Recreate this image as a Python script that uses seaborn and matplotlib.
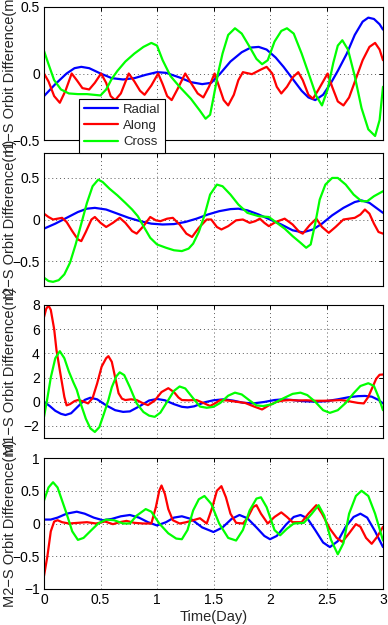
import numpy as np
import pandas as pd
import matplotlib
matplotlib.use("Agg")
import matplotlib.pyplot as plt
import seaborn as sns
from matplotlib.lines import Line2D

# ---- data (time in days, difference in m) ----
p1_radial_t = [0, 0.1, 0.2, 0.27, 0.33, 0.4, 0.5, 0.6, 0.7, 0.8, 0.9, 1.0, 1.08, 1.2, 1.3, 1.4, 1.48, 1.56,
               1.65, 1.75, 1.83, 1.9, 1.97, 2.05, 2.12, 2.2, 2.28, 2.34, 2.4, 2.47, 2.54, 2.6, 2.68, 2.75,
               2.82, 2.87, 2.92, 2.97, 3.0]
p1_radial_v = [-0.17, -0.08, 0.0, 0.04, 0.05, 0.04, 0.0, -0.035, -0.045, -0.035, -0.01, 0.01, 0.005, -0.03,
               -0.065, -0.08, -0.07, 0.0, 0.09, 0.16, 0.195, 0.2, 0.18, 0.12, 0.05, -0.04, -0.13, -0.18, -0.2,
               -0.16, -0.07, 0.02, 0.15, 0.29, 0.39, 0.42, 0.41, 0.37, 0.33]
p1_along_t = [0, 0.04, 0.09, 0.14, 0.19, 0.245, 0.29, 0.34, 0.40, 0.45, 0.505, 0.55, 0.59, 0.63, 0.68, 0.75,
              0.80, 0.85, 0.89, 0.95, 1.01, 1.05, 1.09, 1.13, 1.18, 1.25, 1.30, 1.36, 1.41, 1.46, 1.51, 1.55,
              1.59, 1.63, 1.68, 1.72, 1.76, 1.84, 1.92, 1.97, 2.02, 2.06, 2.10, 2.15, 2.20, 2.25, 2.29, 2.34,
              2.38, 2.43, 2.51, 2.55, 2.60, 2.65, 2.70, 2.76, 2.82, 2.88, 2.93, 2.97, 3.0]
p1_along_v = [0.0, -0.06, -0.17, -0.22, -0.13, 0.0, -0.05, -0.11, -0.12, -0.07, 0.0, -0.07, -0.17, -0.2,
              -0.15, 0.0, -0.06, -0.13, -0.16, -0.09, 0.0, -0.08, -0.17, -0.2, -0.12, 0.0, -0.07, -0.15, -0.18,
              -0.1, 0.0, -0.1, -0.2, -0.24, -0.16, -0.05, 0.01, -0.005, 0.03, 0.05, 0.0, -0.1, -0.15, -0.1,
              -0.03, 0.01, -0.05, -0.16, -0.19, -0.12, 0.0, -0.1, -0.21, -0.24, -0.18, -0.04, 0.1, 0.2, 0.23,
              0.18, 0.1]
p1_cross_t = [0, 0.04, 0.09, 0.15, 0.22, 0.3, 0.38, 0.44, 0.5, 0.55, 0.6, 0.65, 0.72, 0.8, 0.88, 0.95, 1.0,
              1.05, 1.12, 1.2, 1.3, 1.38, 1.43, 1.47, 1.5, 1.54, 1.58, 1.63, 1.69, 1.75, 1.82, 1.88, 1.93,
              1.98, 2.04, 2.1, 2.15, 2.21, 2.28, 2.35, 2.41, 2.46, 2.51, 2.56, 2.6, 2.64, 2.69, 2.75, 2.81,
              2.87, 2.93, 2.97, 3.0]
p1_cross_v = [0.17, 0.07, -0.05, -0.12, -0.15, -0.155, -0.155, -0.16, -0.165, -0.12, -0.04, 0.02, 0.09, 0.15,
              0.2, 0.23, 0.21, 0.1, -0.02, -0.1, -0.19, -0.28, -0.34, -0.31, -0.18, 0.0, 0.15, 0.29, 0.34, 0.3,
              0.2, 0.11, 0.07, 0.1, 0.24, 0.32, 0.34, 0.3, 0.15, -0.02, -0.17, -0.24, -0.12, 0.08, 0.21, 0.25,
              0.18, -0.02, -0.26, -0.42, -0.47, -0.35, -0.1]

p2_radial_t = [0, 0.1, 0.2, 0.3, 0.38, 0.45, 0.55, 0.65, 0.75, 0.85, 0.95, 1.05, 1.15, 1.25, 1.35, 1.45, 1.55,
               1.65, 1.72, 1.8, 1.9, 2.0, 2.1, 2.2, 2.29, 2.38, 2.46, 2.55, 2.65, 2.75, 2.81, 2.88, 2.95, 3.0]
p2_radial_v = [-0.11, -0.05, 0.02, 0.09, 0.13, 0.14, 0.12, 0.07, 0.02, -0.02, -0.05, -0.06, -0.055, -0.03,
               0.01, 0.06, 0.1, 0.125, 0.13, 0.11, 0.06, 0.0, -0.06, -0.13, -0.155, -0.12, -0.05, 0.05, 0.14,
               0.21, 0.23, 0.2, 0.13, 0.08]
p2_along_t = [0, 0.04, 0.08, 0.12, 0.16, 0.2, 0.25, 0.3, 0.33, 0.37, 0.42, 0.45, 0.5, 0.55, 0.61, 0.67, 0.72,
              0.78, 0.82, 0.88, 0.94, 0.99, 1.03, 1.09, 1.14, 1.2, 1.26, 1.31, 1.37, 1.44, 1.48, 1.53, 1.57,
              1.63, 1.7, 1.76, 1.82, 1.87, 1.91, 1.95, 1.99, 2.05, 2.13, 2.2, 2.26, 2.29, 2.35, 2.41, 2.46,
              2.52, 2.58, 2.65, 2.75, 2.8, 2.84, 2.88, 2.92, 2.96, 3.0]
p2_along_v = [0.07, 0.03, 0.0, 0.01, 0.02, -0.03, -0.14, -0.24, -0.26, -0.15, 0.0, 0.03, -0.04, -0.09, -0.04,
              0.02, -0.04, -0.14, -0.17, -0.08, 0.03, -0.01, -0.02, 0.01, 0.02, -0.06, -0.17, -0.21, -0.1, 0.0,
              0.0, -0.09, -0.12, -0.08, -0.01, 0.0, -0.04, -0.02, 0.01, -0.04, -0.08, -0.03, 0.01, -0.06,
              -0.15, -0.17, -0.07, 0.01, -0.09, -0.16, -0.09, 0.0, 0.02, 0.06, 0.12, 0.07, -0.05, -0.15, -0.17]
p2_cross_t = [0, 0.04, 0.08, 0.13, 0.18, 0.23, 0.28, 0.33, 0.38, 0.43, 0.48, 0.52, 0.58, 0.65, 0.72, 0.78,
              0.83, 0.88, 0.94, 1.0, 1.08, 1.15, 1.22, 1.28, 1.32, 1.37, 1.42, 1.47, 1.53, 1.58, 1.65, 1.72,
              1.8, 1.9, 1.99, 2.06, 2.13, 2.2, 2.27, 2.32, 2.36, 2.4, 2.44, 2.49, 2.55, 2.6, 2.67, 2.74, 2.81,
              2.86, 2.92, 3.0]
p2_cross_v = [-0.7, -0.74, -0.75, -0.73, -0.66, -0.52, -0.3, -0.05, 0.2, 0.4, 0.48, 0.45, 0.37, 0.29, 0.2,
              0.12, 0.04, -0.08, -0.22, -0.3, -0.34, -0.37, -0.38, -0.35, -0.29, -0.15, 0.05, 0.3, 0.42, 0.4,
              0.3, 0.18, 0.08, 0.04, 0.03, -0.04, -0.11, -0.2, -0.28, -0.34, -0.3, -0.05, 0.24, 0.42, 0.5, 0.5,
              0.42, 0.3, 0.22, 0.22, 0.28, 0.34]

p3_radial_t = [0, 0.05, 0.1, 0.15, 0.19, 0.24, 0.3, 0.36, 0.41, 0.47, 0.55, 0.63, 0.7, 0.76, 0.85, 0.93, 1.0,
               1.07, 1.15, 1.22, 1.27, 1.33, 1.42, 1.5, 1.59, 1.67, 1.76, 1.85, 1.95, 2.04, 2.12, 2.2, 2.3,
               2.41, 2.5, 2.6, 2.7, 2.78, 2.84, 2.9, 2.96, 3.0]
p3_radial_v = [0.0, -0.35, -0.75, -1.0, -1.1, -0.95, -0.4, 0.15, 0.33, 0.2, -0.3, -0.7, -0.84, -0.8, -0.35,
               0.1, 0.23, 0.12, -0.2, -0.42, -0.47, -0.38, -0.05, 0.12, 0.2, 0.1, -0.08, -0.14, -0.02, 0.14,
               0.2, 0.14, 0.04, 0.0, 0.05, 0.2, 0.38, 0.46, 0.48, 0.42, 0.15, -0.14]
p3_along_t = [0, 0.02, 0.04, 0.06, 0.09, 0.11, 0.14, 0.16, 0.18, 0.2, 0.23, 0.27, 0.3, 0.34, 0.39, 0.43, 0.47,
              0.51, 0.55, 0.57, 0.6, 0.63, 0.66, 0.69, 0.72, 0.77, 0.82, 0.87, 0.92, 0.98, 1.04, 1.1, 1.15,
              1.19, 1.22, 1.28, 1.35, 1.41, 1.47, 1.52, 1.56, 1.63, 1.7, 1.78, 1.86, 1.93, 1.99, 2.06, 2.12,
              2.18, 2.25, 2.32, 2.4, 2.47, 2.55, 2.62, 2.68, 2.72, 2.78, 2.83, 2.87, 2.91, 2.94, 2.97, 3.0]
p3_along_v = [7.0, 7.7, 7.95, 7.6, 6.0, 4.3, 2.6, 1.5, 0.4, -0.3, -0.2, 0.05, 0.14, 0.05, -0.14, 0.3, 1.5,
              2.9, 3.6, 3.77, 3.3, 2.0, 0.7, 0.25, 0.14, 0.2, 0.14, -0.1, -0.28, 0.1, 0.8, 1.12, 0.8, 0.35,
              0.14, 0.12, 0.14, -0.1, -0.35, -0.1, 0.14, 0.1, 0.0, -0.1, -0.4, -0.64, -0.3, 0.0, 0.1, 0.14, 0.1,
              0.12, 0.08, 0.08, 0.1, 0.14, 0.08, 0.0, -0.1, -0.14, 0.4, 1.26, 1.9, 2.23, 2.25]
p3_cross_t = [0, 0.03, 0.06, 0.1, 0.14, 0.18, 0.22, 0.26, 0.29, 0.33, 0.37, 0.41, 0.45, 0.49, 0.53, 0.57,
              0.6, 0.64, 0.67, 0.71, 0.76, 0.82, 0.88, 0.93, 0.98, 1.03, 1.07, 1.1, 1.15, 1.2, 1.25, 1.31,
              1.38, 1.44, 1.5, 1.56, 1.63, 1.69, 1.75, 1.82, 1.88, 1.94, 2.02, 2.1, 2.2, 2.27, 2.33, 2.4, 2.47,
              2.53, 2.6, 2.67, 2.74, 2.8, 2.87, 2.92, 2.96, 3.0]
p3_cross_v = [-1.25, 0.3, 2.0, 3.6, 4.18, 3.6, 2.5, 1.6, 0.98, -0.3, -1.4, -2.2, -2.5, -2.1, -1.0, 0.14, 1.2,
              2.1, 2.43, 2.2, 1.2, -0.14, -0.85, -1.15, -1.25, -0.9, -0.3, 0.14, 0.9, 1.26, 1.1, 0.4, -0.4,
              -0.5, -0.42, -0.1, 0.5, 0.75, 0.6, 0.1, -0.3, -0.36, -0.2, 0.2, 0.65, 0.75, 0.55, 0.0, -0.7,
              -0.92, -0.7, -0.1, 0.7, 1.3, 1.53, 1.3, 0.4, -0.7]

p4_radial_t = [0, 0.06, 0.12, 0.2, 0.29, 0.36, 0.44, 0.52, 0.6, 0.68, 0.76, 0.84, 0.92, 1.0, 1.08, 1.15, 1.22,
               1.3, 1.4, 1.5, 1.58, 1.66, 1.73, 1.8, 1.88, 1.95, 2.0, 2.06, 2.14, 2.21, 2.27, 2.33, 2.4, 2.47,
               2.53, 2.6, 2.67, 2.74, 2.8, 2.86, 2.93, 3.0]
p4_radial_v = [0.06, 0.06, 0.09, 0.15, 0.18, 0.15, 0.09, 0.05, 0.07, 0.11, 0.13, 0.09, 0.02, -0.03, 0.02, 0.09,
               0.11, 0.07, -0.06, -0.13, -0.06, 0.07, 0.13, 0.08, -0.06, -0.19, -0.24, -0.19, -0.02, 0.1, 0.13,
               0.08, -0.1, -0.29, -0.36, -0.27, -0.05, 0.1, 0.15, 0.09, -0.12, -0.36]
p4_along_t = [0, 0.03, 0.06, 0.09, 0.12, 0.16, 0.22, 0.3, 0.38, 0.46, 0.54, 0.61, 0.67, 0.73, 0.8, 0.88, 0.95,
              0.99, 1.02, 1.04, 1.07, 1.1, 1.14, 1.2, 1.26, 1.32, 1.38, 1.44, 1.49, 1.53, 1.57, 1.61, 1.65,
              1.7, 1.76, 1.8, 1.85, 1.88, 1.92, 1.98, 2.04, 2.1, 2.15, 2.2, 2.28, 2.34, 2.41, 2.46, 2.53, 2.59,
              2.64, 2.7, 2.76, 2.8, 2.85, 2.9, 2.95, 3.0]
p4_along_v = [-0.8, -0.5, -0.12, 0.03, 0.05, 0.02, 0.0, 0.01, 0.02, 0.0, 0.03, -0.01, 0.02, 0.04, 0.01, 0.0,
              0.0, 0.25, 0.5, 0.58, 0.45, 0.22, 0.05, 0.0, 0.02, 0.05, 0.08, 0.0, 0.25, 0.5, 0.57, 0.4, 0.15,
              0.01, 0.0, 0.08, 0.25, 0.28, 0.15, 0.0, 0.1, 0.17, 0.1, 0.02, 0.02, 0.15, 0.28, 0.15, -0.08,
              -0.22, -0.28, -0.15, -0.01, -0.05, -0.22, -0.31, -0.2, -0.05]
p4_cross_t = [0, 0.04, 0.08, 0.12, 0.16, 0.2, 0.25, 0.3, 0.35, 0.42, 0.48, 0.55, 0.62, 0.7, 0.76, 0.82, 0.9,
              0.95, 1.02, 1.1, 1.17, 1.22, 1.27, 1.32, 1.37, 1.42, 1.48, 1.55, 1.63, 1.7, 1.76, 1.82, 1.88,
              1.92, 1.97, 2.04, 2.09, 2.15, 2.21, 2.3, 2.37, 2.43, 2.48, 2.54, 2.6, 2.65, 2.7, 2.76, 2.81,
              2.87, 2.93, 3.0]
p4_cross_v = [0.35, 0.55, 0.63, 0.55, 0.35, 0.15, -0.12, -0.25, -0.22, -0.1, 0.0, 0.06, 0.05, 0.0, 0.0, 0.12,
              0.22, 0.18, 0.0, -0.15, -0.23, -0.24, -0.1, 0.2, 0.37, 0.42, 0.3, 0.0, -0.22, -0.26, -0.1, 0.2,
              0.38, 0.4, 0.25, -0.1, -0.18, -0.08, 0.0, 0.01, 0.15, 0.28, 0.12, -0.25, -0.47, -0.3, 0.15, 0.42,
              0.5, 0.42, 0.15, -0.26]

series_names = ["Radial", "Along", "Cross"]
colors = {"Radial": "#0000ff", "Along": "#ff0000", "Cross": "#00ff00"}
panel_labels = ["I1\u2212S Orbit Difference(m)", "I2\u2212S Orbit Difference(m)",
                "M1\u2212S Orbit Difference(m)", "M2\u2212S Orbit Difference(m)"]
panel_data = [
    [(p1_radial_t, p1_radial_v), (p1_along_t, p1_along_v), (p1_cross_t, p1_cross_v)],
    [(p2_radial_t, p2_radial_v), (p2_along_t, p2_along_v), (p2_cross_t, p2_cross_v)],
    [(p3_radial_t, p3_radial_v), (p3_along_t, p3_along_v), (p3_cross_t, p3_cross_v)],
    [(p4_radial_t, p4_radial_v), (p4_along_t, p4_along_v), (p4_cross_t, p4_cross_v)],
]
ylims = [(-0.5, 0.5), (-0.8, 0.8), (-3, 8), (-1, 1)]
yticks = [[-0.5, 0, 0.5], [-0.5, 0, 0.5], [-2, 0, 2, 4, 6, 8], [-1, -0.5, 0, 0.5, 1]]
xticks = [0, 0.5, 1, 1.5, 2, 2.5, 3]
xticklabels = ["0", "0.5", "1", "1.5", "2", "2.5", "3"]

sns.set_style("white")
plt.rcParams['font.family'] = ['Liberation Sans', 'DejaVu Sans']

W, H = 388, 625
fig = plt.figure(figsize=(W / 100, H / 100), dpi=100)

# axes boxes in pixels: (top, bottom)
boxes = [(7, 140), (153, 286), (305, 438), (458, 589)]
left_px, right_px = 44, 383
label_x_px = 17   # right side of the rotated y label

axes = []
for i, (top, bot) in enumerate(boxes):
    ax = fig.add_axes([left_px / W, 1 - bot / H, (right_px - left_px) / W, (bot - top) / H])
    frames = []
    for name, (t, v) in zip(series_names, panel_data[i]):
        frames.append(pd.DataFrame({"t": t, "v": v, "series": name}))
    df = pd.concat(frames, ignore_index=True)
    sns.lineplot(data=df, x="t", y="v", hue="series", palette=colors, hue_order=series_names,
                 estimator=None, sort=False, linewidth=1.6, ax=ax, legend=False)
    for ln in ax.get_lines():
        ln.set_solid_joinstyle("round")
        ln.set_solid_capstyle("round")
    ax.set_xlim(0, 3)
    ax.set_ylim(*ylims[i])
    ax.set_yticks(yticks[i])
    ax.set_yticklabels([("%g" % y).replace("-", "\u2212") for y in yticks[i]])
    ax.set_xticks(xticks)
    if i == 3:
        ax.set_xticklabels(xticklabels)
        ax.set_xlabel("Time(Day)", fontsize=10.5, labelpad=2)
    else:
        ax.set_xticklabels([])
        ax.set_xlabel("")
    ax.set_ylabel(panel_labels[i], fontsize=10.5)
    ax.yaxis.set_label_coords((label_x_px - left_px) / (right_px - left_px), 0.5)
    ax.grid(True, linestyle=(0, (1, 3)), color="0.35", linewidth=0.7)
    ax.tick_params(direction="in", top=True, right=True, length=3, width=0.7,
                   labelsize=10, pad=3, colors="black")
    for s in ax.spines.values():
        s.set_color("black")
        s.set_linewidth(0.8)
    axes.append(ax)

# legend on the first panel
handles = [Line2D([], [], color=colors[n], lw=1.6) for n in series_names]
leg = axes[0].legend(handles, series_names, loc="upper left",
                     bbox_to_anchor=(79 / W, 1 - 99 / H), bbox_transform=fig.transFigure,
                     fancybox=False, edgecolor="black", framealpha=1, fontsize=9.5,
                     handlelength=2.6, handletextpad=0.4, borderpad=0.35, labelspacing=0.3,
                     borderaxespad=0)
leg.get_frame().set_linewidth(0.8)
axes[0].set_zorder(5)

fig.savefig("out.png", dpi=100)
